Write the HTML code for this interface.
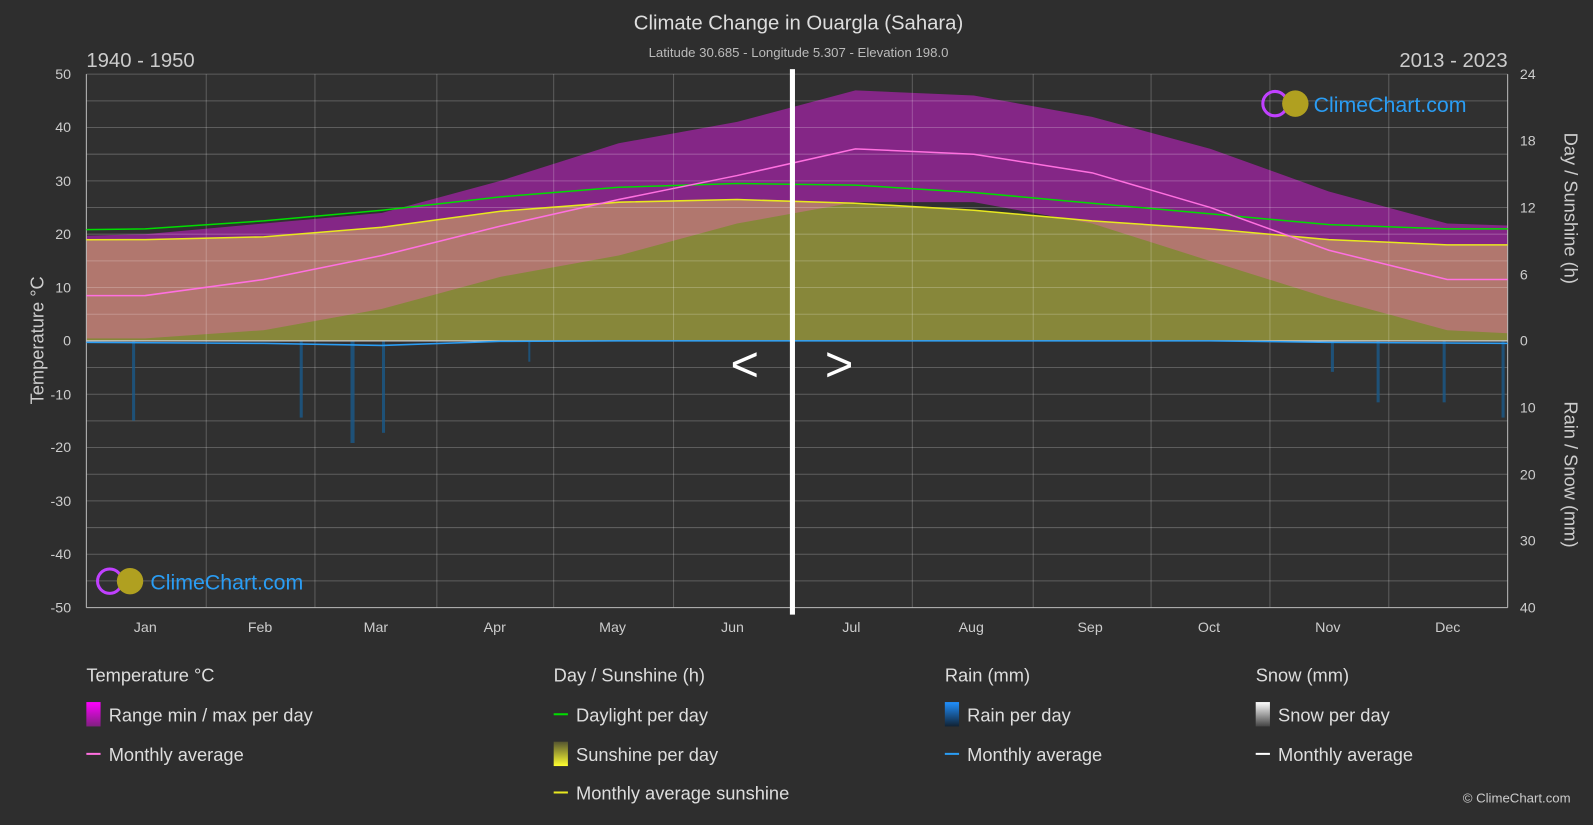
<!DOCTYPE html>
<html><head><meta charset="utf-8"><style>
body{margin:0;background:#2e2e2e;width:1593px;height:825px;overflow:hidden;font-family:"Liberation Sans",sans-serif;color:#ddd}
svg{position:absolute;left:0;top:0}
</style></head><body>
<svg width="1593" height="825" viewBox="0 0 1568 812" preserveAspectRatio="none" xmlns="http://www.w3.org/2000/svg" font-family="Liberation Sans, sans-serif">
<defs>
<linearGradient id="lgm" x1="0" y1="0" x2="0" y2="1"><stop offset="0" stop-color="#f0f"/><stop offset="1" stop-color="#802080"/></linearGradient>
<linearGradient id="lgy" x1="0" y1="0" x2="0" y2="1"><stop offset="0" stop-color="#555530"/><stop offset="1" stop-color="#ffff30"/></linearGradient>
<linearGradient id="lgb" x1="0" y1="0" x2="0" y2="1"><stop offset="0" stop-color="#2090ff"/><stop offset="1" stop-color="#123"/></linearGradient>
<linearGradient id="lgw" x1="0" y1="0" x2="0" y2="1"><stop offset="0" stop-color="#fff"/><stop offset="1" stop-color="#444"/></linearGradient>
<clipPath id="sun"><path d="M85,236 L143,235.8 259.5,233.1 376,223.7 492.5,207.9 609,199 725.5,196.4 842,200 958.5,206.9 1075,217.4 1191.5,225.3 1308,235.8 1424.5,241 1484,241 L1484,335.5 85,335.5 Z"/></clipPath>
</defs>
<rect width="1568" height="812" fill="#2e2e2e"/>
<rect x="85" y="73" width="1399" height="525" fill="#303030"/>
<path d="M85,232 L143,230.5 259.5,220 376,209.5 492.5,178 609,141 725.5,120 842,89 958.5,94 1075,115 1191.5,146.5 1308,188.5 1424.5,220 1484,222 L1484,328 1424.5,325 1308,293.5 1191.5,257 1075,220 958.5,199 842,199 725.5,220 609,251.5 492.5,272.5 376,304 259.5,325 143,333 85,333 Z" fill="#8e2690" opacity="0.9"/>
<path d="M85,236 L143,235.8 259.5,233.1 376,223.7 492.5,207.9 609,199 725.5,196.4 842,200 958.5,206.9 1075,217.4 1191.5,225.3 1308,235.8 1424.5,241 1484,241 L1484,335.5 85,335.5 Z" fill="#87873a"/>
<g clip-path="url(#sun)">
<path d="M85,232 L143,230.5 259.5,220 376,209.5 492.5,178 609,141 725.5,120 842,89 958.5,94 1075,115 1191.5,146.5 1308,188.5 1424.5,220 1484,222 L1484,328 1424.5,325 1308,293.5 1191.5,257 1075,220 958.5,199 842,199 725.5,220 609,251.5 492.5,272.5 376,304 259.5,325 143,333 85,333 Z" fill="#b87478" opacity="0.85"/>
</g>
<g stroke="#fff" stroke-opacity="0.22" stroke-width="1">
<line x1="85" y1="73" x2="1484" y2="73"/><line x1="85" y1="99.25" x2="1484" y2="99.25"/><line x1="85" y1="125.5" x2="1484" y2="125.5"/><line x1="85" y1="151.75" x2="1484" y2="151.75"/><line x1="85" y1="178" x2="1484" y2="178"/><line x1="85" y1="204.25" x2="1484" y2="204.25"/><line x1="85" y1="230.5" x2="1484" y2="230.5"/><line x1="85" y1="256.75" x2="1484" y2="256.75"/><line x1="85" y1="283" x2="1484" y2="283"/><line x1="85" y1="309.25" x2="1484" y2="309.25"/><line x1="85" y1="361.75" x2="1484" y2="361.75"/><line x1="85" y1="388" x2="1484" y2="388"/><line x1="85" y1="414.25" x2="1484" y2="414.25"/><line x1="85" y1="440.5" x2="1484" y2="440.5"/><line x1="85" y1="466.75" x2="1484" y2="466.75"/><line x1="85" y1="493" x2="1484" y2="493"/><line x1="85" y1="519.25" x2="1484" y2="519.25"/><line x1="85" y1="545.5" x2="1484" y2="545.5"/><line x1="85" y1="571.75" x2="1484" y2="571.75"/>
<line x1="203" y1="73" x2="203" y2="598"/><line x1="310" y1="73" x2="310" y2="598"/><line x1="430" y1="73" x2="430" y2="598"/><line x1="545" y1="73" x2="545" y2="598"/><line x1="663" y1="73" x2="663" y2="598"/><line x1="898" y1="73" x2="898" y2="598"/><line x1="1017" y1="73" x2="1017" y2="598"/><line x1="1133" y1="73" x2="1133" y2="598"/><line x1="1250" y1="73" x2="1250" y2="598"/><line x1="1367" y1="73" x2="1367" y2="598"/>
</g>
<g stroke="#bbb" stroke-width="1"><line x1="85" y1="73" x2="85" y2="598"/><line x1="1484" y1="73" x2="1484" y2="598"/><line x1="85" y1="598" x2="1484" y2="598"/></g>
<g fill="#1a5a8a" opacity="0.8">
<rect x="130" y="336" width="3" height="78"/><rect x="295" y="336" width="3" height="75"/><rect x="345" y="336" width="4" height="100"/><rect x="376" y="336" width="3" height="90"/><rect x="520" y="336" width="2" height="20"/><rect x="1310" y="336" width="3" height="30"/><rect x="1355" y="336" width="3" height="60"/><rect x="1420" y="336" width="3" height="60"/><rect x="1478" y="336" width="3" height="75"/>
</g>
<line x1="85" y1="335.5" x2="1484" y2="335.5" stroke="#ccc" stroke-width="1.2"/>
<polyline fill="none" stroke="#2a9df4" stroke-width="1.5" points="85,337 259.5,338 376,340 492.5,336 609,335.5 1191.5,335.5 1308,337 1484,338"/>
<polyline fill="none" stroke="#00dd00" stroke-width="1.5" points="85,226 143,225.3 259.5,217.4 376,206.9 492.5,193.8 609,184.3 725.5,180.6 842,182.2 958.5,189.5 1075,200 1191.5,210.5 1308,221.1 1424.5,225.3 1484,225.3"/>
<polyline fill="none" stroke="#e8e820" stroke-width="1.5" points="85,236 143,235.8 259.5,233.1 376,223.7 492.5,207.9 609,199 725.5,196.4 842,200 958.5,206.9 1075,217.4 1191.5,225.3 1308,235.8 1424.5,241 1484,241"/>
<polyline fill="none" stroke="#ff70e0" stroke-width="1.5" points="85,291 143,290.9 259.5,275.1 376,251.5 492.5,222.6 609,196.4 725.5,172.8 842,146.5 958.5,151.8 1075,170.1 1191.5,204.3 1308,246.3 1424.5,275.1 1484,275.1"/>
<line x1="780" y1="68" x2="780" y2="605" stroke="#fff" stroke-width="5"/>
<text x="733" y="375" font-size="48" fill="#fff" text-anchor="middle">&lt;</text>
<text x="826" y="375" font-size="48" fill="#fff" text-anchor="middle">&gt;</text>
<g font-size="14" fill="#ccc" text-anchor="end">
<text x="70" y="78">50</text><text x="70" y="130">40</text><text x="70" y="183">30</text><text x="70" y="235">20</text><text x="70" y="288">10</text><text x="70" y="340">0</text><text x="70" y="393">-10</text><text x="70" y="445">-20</text><text x="70" y="498">-30</text><text x="70" y="550">-40</text><text x="70" y="603">-50</text>
</g>
<g font-size="14" fill="#ccc" text-anchor="start">
<text x="1496" y="78">24</text><text x="1496" y="143">18</text><text x="1496" y="209">12</text><text x="1496" y="275">6</text><text x="1496" y="340">0</text><text x="1496" y="406">10</text><text x="1496" y="472">20</text><text x="1496" y="537">30</text><text x="1496" y="603">40</text>
</g>
<g font-size="14" fill="#ccc" text-anchor="middle">
<text x="143" y="622">Jan</text><text x="256" y="622">Feb</text><text x="370" y="622">Mar</text><text x="487" y="622">Apr</text><text x="603" y="622">May</text><text x="721" y="622">Jun</text><text x="838" y="622">Jul</text><text x="956" y="622">Aug</text><text x="1073" y="622">Sep</text><text x="1190" y="622">Oct</text><text x="1307" y="622">Nov</text><text x="1425" y="622">Dec</text>
</g>
<text x="43" y="335" font-size="18" fill="#ccc" text-anchor="middle" transform="rotate(-90 43 335)">Temperature °C</text>
<text x="1540" y="205" font-size="18" fill="#ccc" text-anchor="middle" transform="rotate(90 1540 205)">Day / Sunshine (h)</text>
<text x="1540" y="467" font-size="18" fill="#ccc" text-anchor="middle" transform="rotate(90 1540 467)">Rain / Snow (mm)</text>
<text x="786" y="29" font-size="20" fill="#ddd" text-anchor="middle">Climate Change in Ouargla (Sahara)</text>
<text x="786" y="56" font-size="13" fill="#bbb" text-anchor="middle">Latitude 30.685 - Longitude 5.307 - Elevation 198.0</text>
<text x="85" y="66" font-size="20" fill="#ccc">1940 - 1950</text>
<text x="1484" y="66" font-size="20" fill="#ccc" text-anchor="end">2013 - 2023</text>
<g><circle cx="1255" cy="102" r="12" fill="none" stroke="#c040ff" stroke-width="3"/><circle cx="1275" cy="102" r="13" fill="#b0a020"/><text x="1293" y="110" font-size="21" fill="#2a9df4">ClimeChart.com</text></g>
<g><circle cx="108" cy="572" r="12" fill="none" stroke="#c040ff" stroke-width="3"/><circle cx="128" cy="572" r="13" fill="#b0a020"/><text x="148" y="580" font-size="21" fill="#2a9df4">ClimeChart.com</text></g>
<g font-size="18" fill="#ddd">
<text x="85" y="671">Temperature °C</text>
<rect x="85" y="691" width="14" height="24" fill="url(#lgm)"/><text x="107" y="710">Range min / max per day</text>
<line x1="85" y1="742" x2="99" y2="742" stroke="#ff70e0" stroke-width="2"/><text x="107" y="749">Monthly average</text>
<text x="545" y="671">Day / Sunshine (h)</text>
<line x1="545" y1="703" x2="559" y2="703" stroke="#00dd00" stroke-width="2"/><text x="567" y="710">Daylight per day</text>
<rect x="545" y="730" width="14" height="24" fill="url(#lgy)"/><text x="567" y="749">Sunshine per day</text>
<line x1="545" y1="780" x2="559" y2="780" stroke="#e8e820" stroke-width="2"/><text x="567" y="787">Monthly average sunshine</text>
<text x="930" y="671">Rain (mm)</text>
<rect x="930" y="691" width="14" height="24" fill="url(#lgb)"/><text x="952" y="710">Rain per day</text>
<line x1="930" y1="742" x2="944" y2="742" stroke="#2a9df4" stroke-width="2"/><text x="952" y="749">Monthly average</text>
<text x="1236" y="671">Snow (mm)</text>
<rect x="1236" y="691" width="14" height="24" fill="url(#lgw)"/><text x="1258" y="710">Snow per day</text>
<line x1="1236" y1="742" x2="1250" y2="742" stroke="#fff" stroke-width="2"/><text x="1258" y="749">Monthly average</text>
</g>
<text x="1546" y="790" font-size="13" fill="#ccc" text-anchor="end">© ClimeChart.com</text>
</svg>
</body></html>
